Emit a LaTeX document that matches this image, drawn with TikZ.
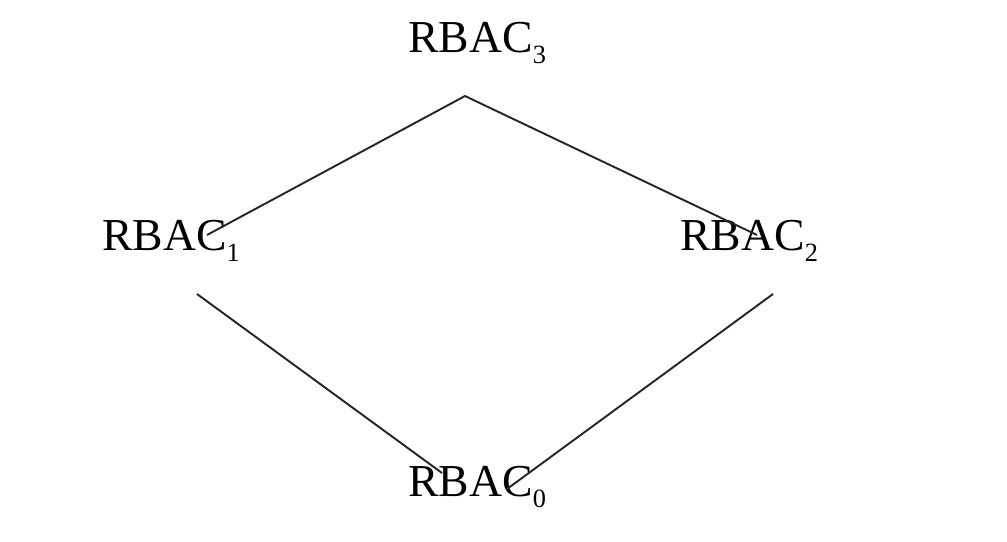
\documentclass[tikz,border=0pt]{standalone}
\usepackage{fontspec}
\setmainfont{Liberation Serif}
\usetikzlibrary{positioning}
\newcommand{\rbac}[1]{RBAC\raisebox{-6.5pt}{\fontsize{15}{15}\selectfont #1}}
\begin{document}
\begin{tikzpicture}[
        x=0.02cm, y=-0.02cm,
        role/.style={inner sep=0pt, anchor=base west, font=\fontsize{26}{30}\selectfont},
        link/.style={line width=1.1pt, black!85}
    ]
        \useasboundingbox (0,0) rectangle (1007,541);
        % models
        \node[role] (r3) at (408,52) {\rbac{3}};
        \node[role] (r1) at (102,250) {\rbac{1}};
        \node[role] (r2) at (680,250) {\rbac{2}};
        \node[role] (r0) at (408,496) {\rbac{0}};
        
        % line ends
        \coordinate (top) at (465,96);
        \coordinate (e1) at (207,235);
        \coordinate (e2) at (757,235);
        \coordinate (s1) at (197,294);
        \coordinate (s2) at (773,294);
        \coordinate (b1) at (442,473);
        \coordinate (b2) at (507,489);
        
        \draw[link] (e1) -- (top) -- (e2);
        \draw[link] (s1) -- (b1);
        \draw[link] (s2) -- (b2);
    \end{tikzpicture}
\end{document}
